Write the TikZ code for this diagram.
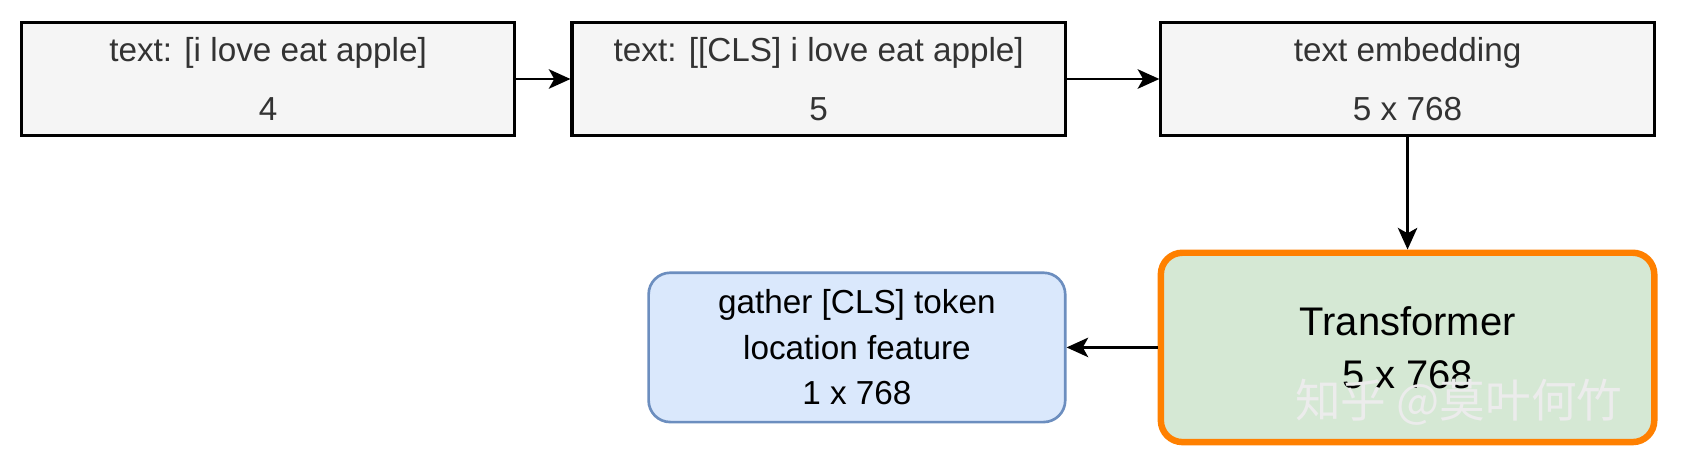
\documentclass[tikz,border=0pt]{standalone}
\usepackage{fontspec}
\setmainfont{Liberation Sans}
\newfontfamily\cjkfont{Noto Sans CJK SC}
\usetikzlibrary{arrows,positioning}
\usetikzlibrary{arrows.meta}
\definecolor{boxgray}{HTML}{F5F5F5}
\definecolor{textgray}{HTML}{333333}
\definecolor{transfill}{HTML}{D5E8D4}
\definecolor{transline}{HTML}{FF8000}
\definecolor{gatherfill}{HTML}{DAE8FC}
\definecolor{gatherline}{HTML}{6C8EBF}
\tikzset{
	%Define standard arrow tip
	>=stealth',
	%Define style for boxes
	kasse/.style={
		rectangle,
		draw=black, line width=1.6pt,
		fill=boxgray,
		minimum width=9.12cm,
		minimum height=2.1cm,
		font=\fontsize{17.5}{31}\selectfont,
		text=textgray,
		align=center},
	% Define arrow style
	pil/.style={
		-{Stealth[length=4mm,width=3.6mm,inset=1mm]},
		line width=1.3pt}
}

\begin{document}
\begin{tikzpicture}[x=0.0199cm, y=-0.02cm]
	\useasboundingbox (0,0) rectangle (1568,432);
	
	\node[kasse] (input) at (249,73) {text: [i love eat apple]\\4};
	\node[kasse] (withcls) at (760.5,73) {text: [[CLS] i love eat apple]\\5};
	\node[kasse] (embed) at (1307.5,73) {text embedding\\5 x 768};
	\node[kasse, draw=transline, line width=3.4pt, fill=transfill, rounded corners=0.4cm,
		minimum height=3.5cm, text=black, font=\fontsize{21}{28}\selectfont] (trans) at (1307.5,321) {Transformer\\5 x 768};
	\node[kasse, draw=gatherline, line width=1.4pt, fill=gatherfill, rounded corners=0.4cm,
		minimum width=7.7cm, minimum height=2.76cm, text=black, font=\fontsize{17.5}{24}\selectfont] (gather) at (796,321) {gather [CLS] token\\location feature\\1 x 768};
	\node[text=white!85!gray, font=\cjkfont\fontsize{24}{24}\selectfont] (mark) at (1355,372) {知乎 @莫叶何竹};
	
	\draw[pil] (input) -- (withcls);
	\draw[pil] (withcls) -- (embed);
	\draw[pil] (embed) -- (trans);
	\draw[pil] (trans) -- (gather);
	
\end{tikzpicture}
\end{document}
